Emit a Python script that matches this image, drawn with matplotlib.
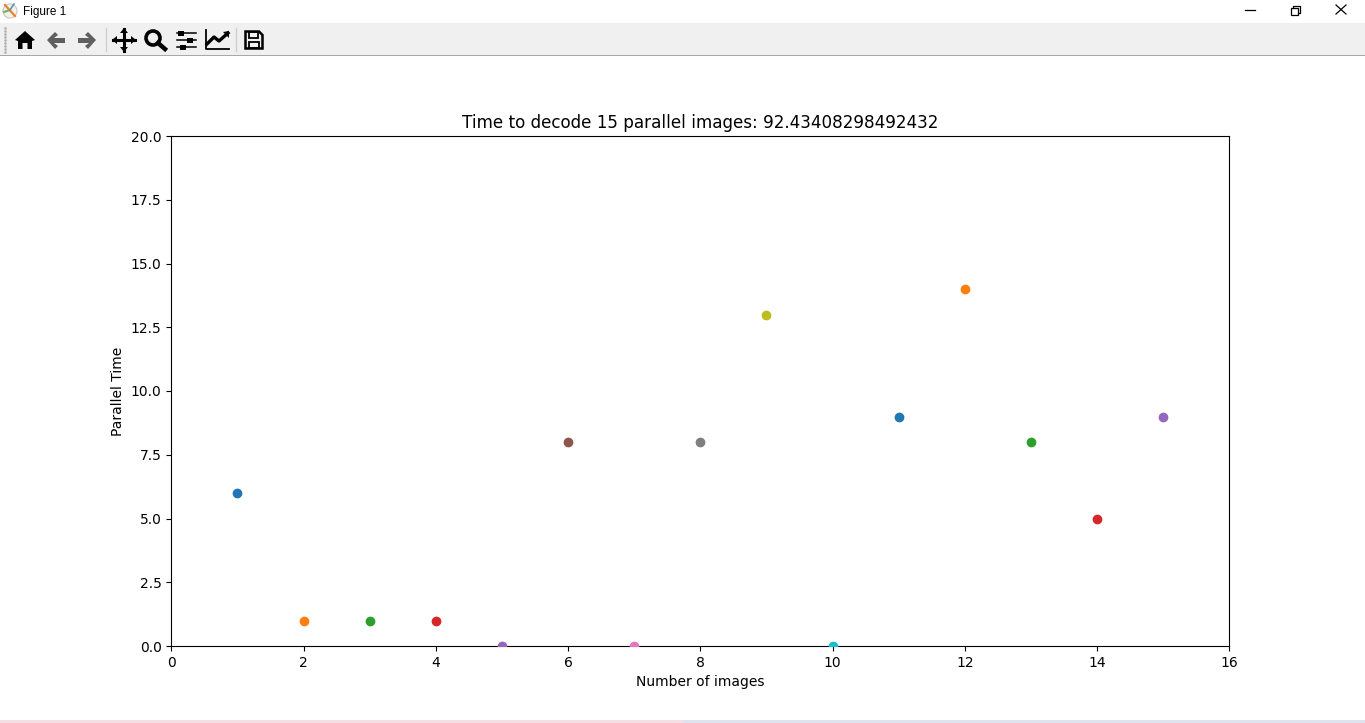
import matplotlib
matplotlib.use("Agg")
import matplotlib.pyplot as plt
from matplotlib.patches import Rectangle, Polygon, Circle

images = [1, 2, 3, 4, 5, 6, 7, 8, 9, 10, 11, 12, 13, 14, 15]
parallel_time = [6, 1, 1, 1, 0, 8, 0, 8, 13, 0, 9, 14, 8, 5, 9]
total_time = "92.43408298492432"

W, H = 1365, 723
fig = plt.figure(figsize=(W / 100, H / 100), dpi=100)

# window chrome, drawn in a full-figure overlay with pixel coordinates
ui = fig.add_axes([0, 0, 1, 1], zorder=0)
ui.set_xlim(0, W)
ui.set_ylim(H, 0)
ui.axis("off")
ui.add_patch(Rectangle((0, 23), W, 32, fc="#f0f0f0", ec="none"))
ui.add_patch(Rectangle((0, 55), W, 1, fc="#a8a8a8", ec="none"))
ui.add_patch(Rectangle((0, 720), W / 2, 3, fc="#f6dfe4", ec="none"))
ui.add_patch(Rectangle((W / 2, 720), W / 2, 3, fc="#dfe3ee", ec="none"))
ui.text(23, 11.5, "Figure 1", fontsize=8.5, family="Liberation Sans", va="center", ha="left")

# app icon
ui.add_patch(Circle((10, 11), 7, fc="#f4f1ec", ec="#c8c8c8", lw=0.8))
ui.plot([5, 15], [5, 16], color="#e8842c", lw=1.6)
ui.plot([4, 10], [12, 10], color="#7fb35a", lw=1.6)
ui.plot([10, 14], [10, 4], color="#6a8fb5", lw=1.2)

# window buttons
ui.plot([1245, 1255], [9.5, 9.5], color="k", lw=0.9)
ui.add_patch(Rectangle((1290.5, 7.5), 7, 7, fc="none", ec="k", lw=0.9))
ui.plot([1292.5, 1292.5, 1299.5, 1299.5, 1297.5], [7.5, 5.5, 5.5, 12.5, 12.5], color="k", lw=0.9)
ui.plot([1336, 1346], [5, 14], color="k", lw=0.9)
ui.plot([1336, 1346], [14, 5], color="k", lw=0.9)

# toolbar grip and separators
ui.plot([5] * 9, list(range(28, 55, 3)), ls="none", marker="s", ms=0.8, color="#b0b0b0")
ui.plot([105.5, 105.5], [28, 51], color="#cfcfcf", lw=1)
ui.plot([235.5, 235.5], [28, 51], color="#cfcfcf", lw=1)

# home
ui.add_patch(Polygon([(15, 40), (25, 31), (35, 40), (32, 41), (32, 49), (27.5, 49), (27.5, 43), (22.5, 43), (22.5, 49), (18, 49), (18, 41)], fc="k", ec="none"))
# back / forward
grey = "#5f5f5f"
ui.add_patch(Polygon([(47, 40), (55, 32), (58, 35), (54, 38), (65, 38), (65, 43), (54, 43), (58, 46), (55, 49)], fc=grey, ec="none"))
ui.add_patch(Polygon([(96, 40), (88, 32), (85, 35), (89, 38), (78, 38), (78, 43), (89, 43), (85, 46), (88, 49)], fc=grey, ec="none"))
# move
ui.plot([113, 135], [40, 40], color="k", lw=2.2)
ui.plot([124, 124], [29, 51], color="k", lw=2.2)
for pts in ([(124, 28), (120, 33), (128, 33)], [(124, 52), (120, 47), (128, 47)],
            [(112, 40), (117, 36), (117, 44)], [(136, 40), (131, 36), (131, 44)]):
    ui.add_patch(Polygon(pts, fc="k", ec="none"))
# zoom
ui.add_patch(Circle((153, 38), 7, fc="none", ec="k", lw=2.6))
ui.plot([158, 165], [43, 49], color="k", lw=3.2)
# sliders
for y, xk in ((33, 181), (40, 190), (47, 183)):
    ui.plot([177, 196], [y, y], color="k", lw=1.1)
    ui.add_patch(Rectangle((xk - 3, y - 2.5), 6, 5, fc="k", ec="none"))
# chart
ui.plot([206, 206, 229], [30, 48.5, 48.5], color="k", lw=1.3)
ui.plot([207, 214, 219, 228], [44, 37, 41, 33], color="k", lw=2.4)
ui.add_patch(Polygon([(229, 31), (223, 32), (229, 38)], fc="k", ec="none"))
# save
ui.add_patch(Polygon([(245.5, 31.5), (259, 31.5), (262.5, 35), (262.5, 48.5), (245.5, 48.5)], fc="none", ec="k", lw=1.8))
ui.add_patch(Rectangle((249, 32), 9, 5.5, fc="none", ec="k", lw=1.3))
ui.add_patch(Rectangle((249, 42), 10, 6, fc="none", ec="k", lw=1.3))

ax = fig.add_axes([171.3 / W, 1 - 646 / H, 1058 / W, 510 / H], zorder=1)
for x, y in zip(images, parallel_time):
    ax.scatter(x, y, zorder=3)
ax.set_xlim(0, 16)
ax.set_ylim(0, 20)
ax.set_xlabel("Number of images")
ax.set_ylabel("Parallel Time")
ax.set_title(f"Time to decode 15 parallel images: {total_time}", fontsize=12.07)

fig.savefig("out.png", dpi=100)
